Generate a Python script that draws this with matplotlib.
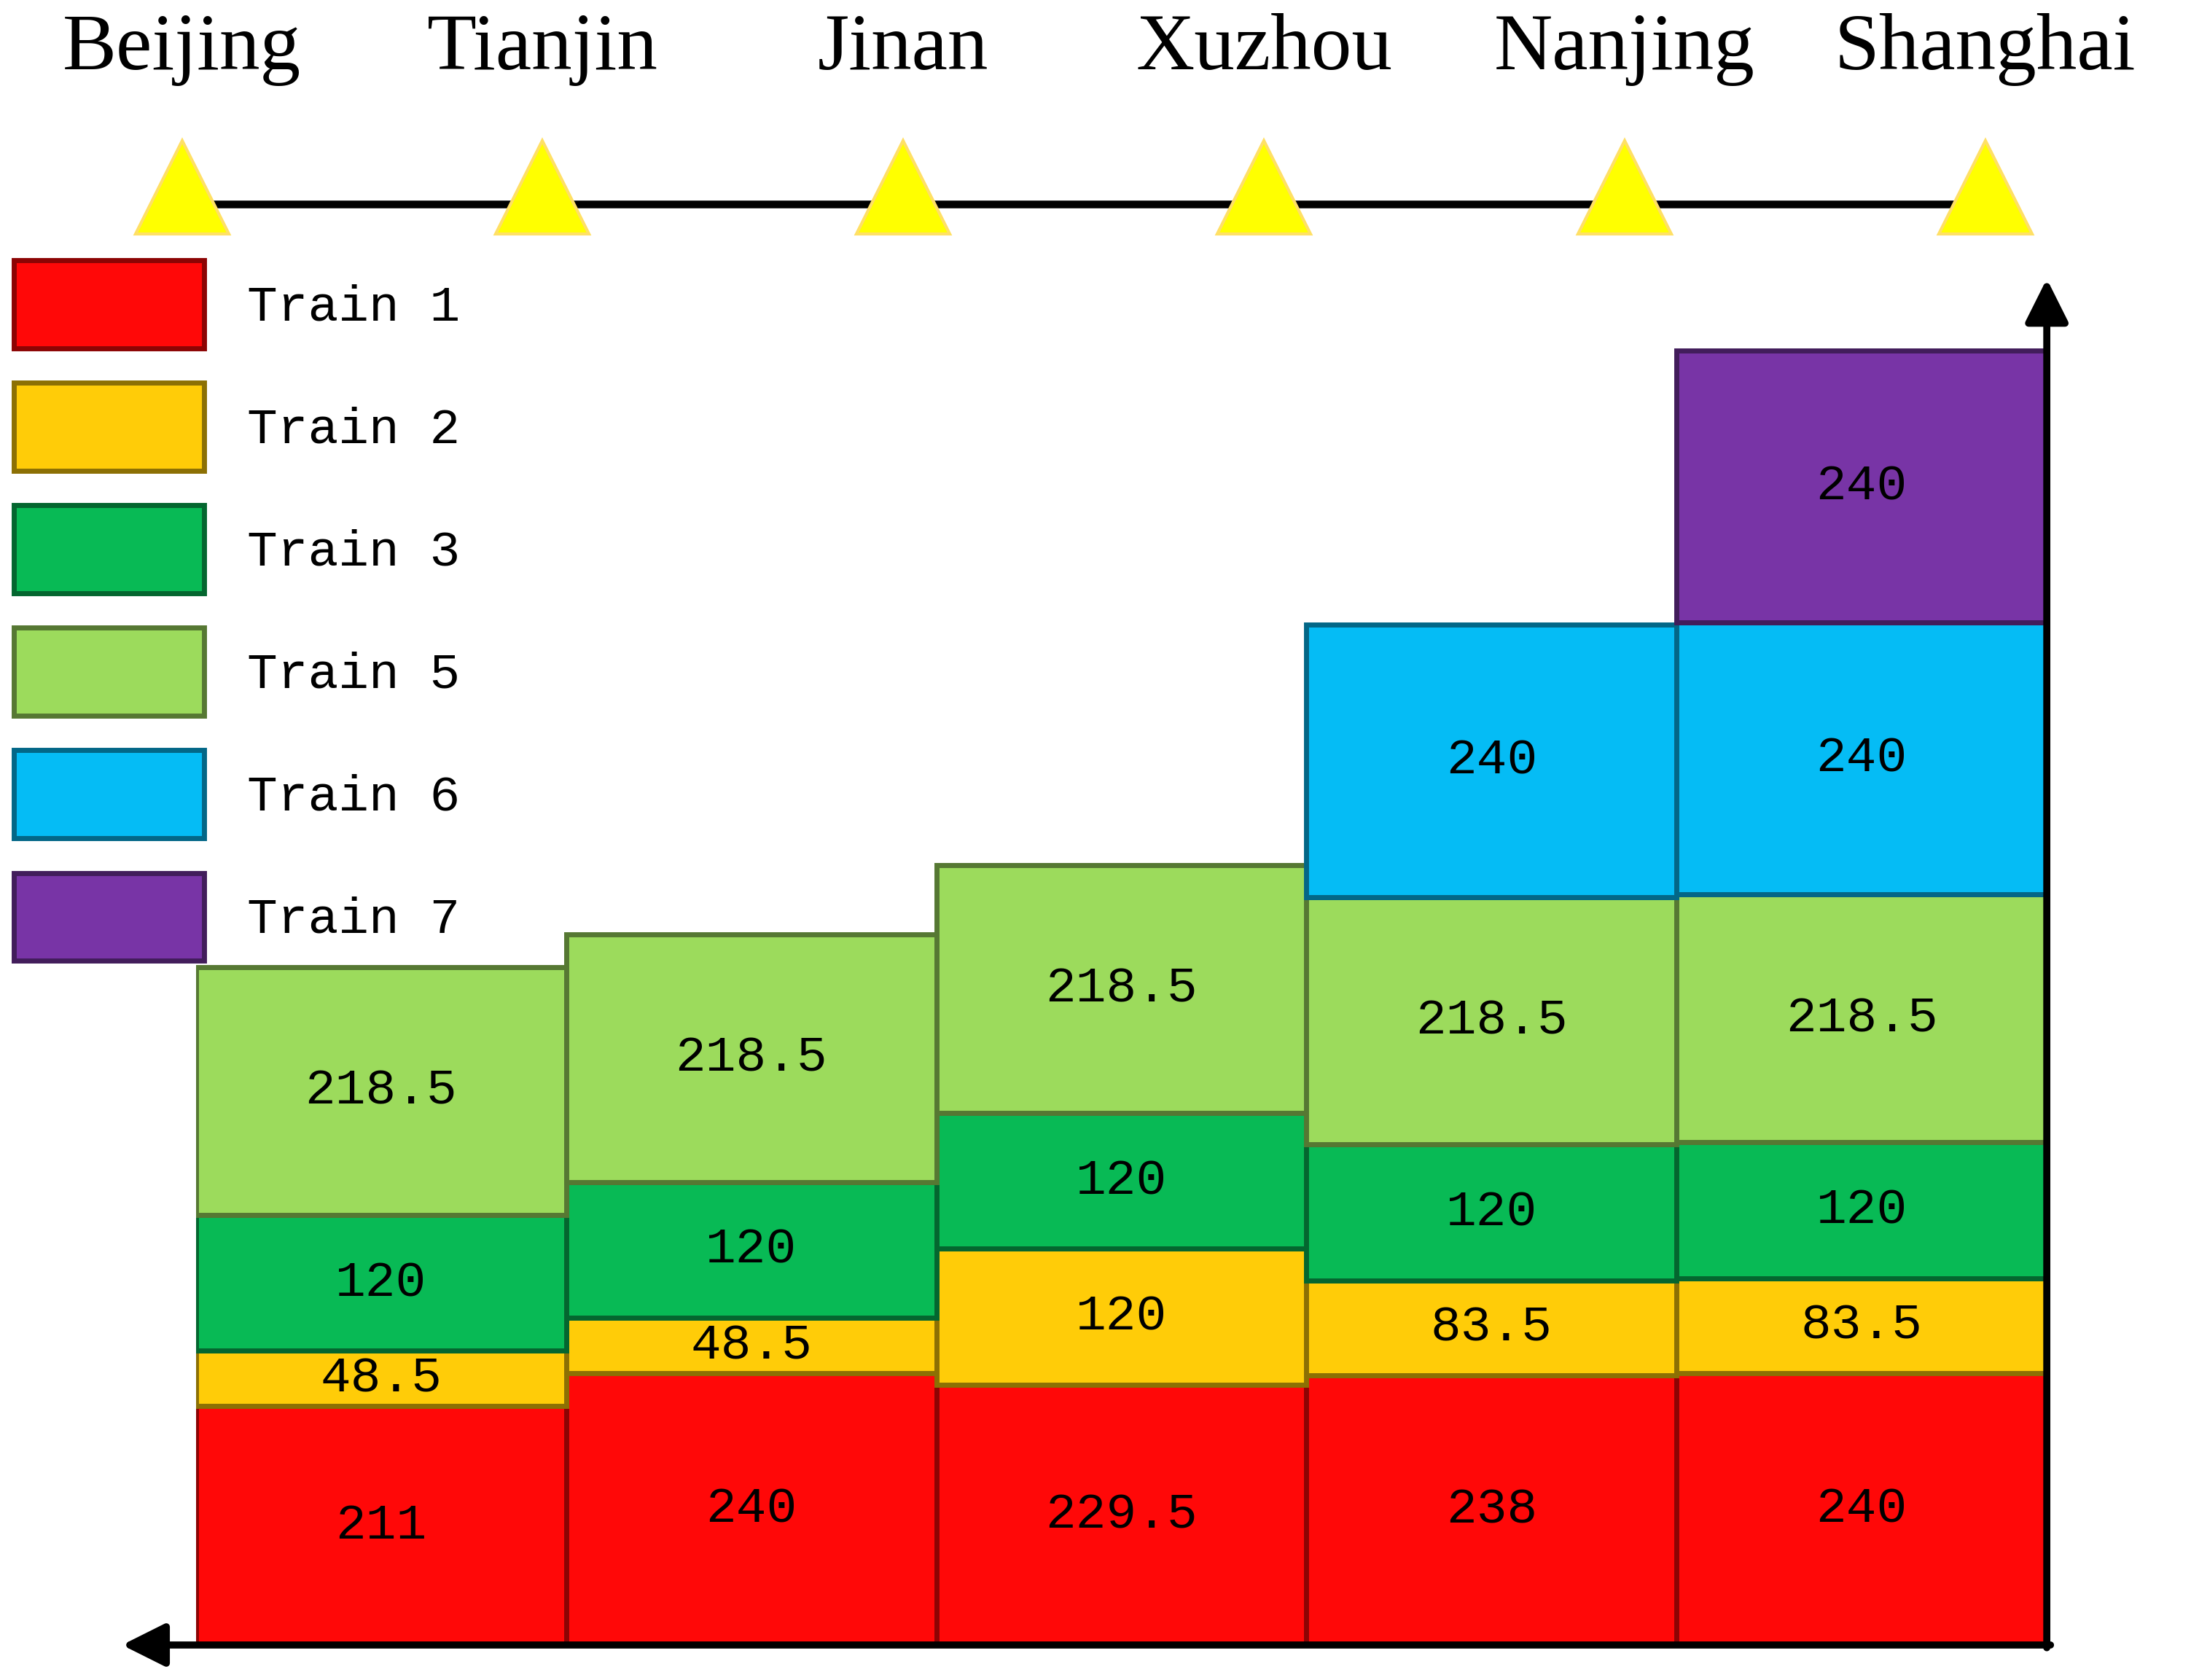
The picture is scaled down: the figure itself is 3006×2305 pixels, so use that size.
import numpy as np
import matplotlib
matplotlib.use("Agg")
import matplotlib.pyplot as plt
from matplotlib.colors import to_rgb
from matplotlib.patches import Patch

# stations along the line
stations = ["Beijing", "Tianjin", "Jinan", "Xuzhou", "Nanjing", "Shanghai"]

# one column per section between two stations
train_names = ["Train 1", "Train 2", "Train 3", "Train 5", "Train 6", "Train 7"]
train1 = [211, 240, 229.5, 238, 240]
train2 = [48.5, 48.5, 120, 83.5, 83.5]
train3 = [120, 120, 120, 120, 120]
train5 = [218.5, 218.5, 218.5, 218.5, 218.5]
train6 = [0, 0, 0, 240, 240]
train7 = [0, 0, 0, 0, 240]
series = [train1, train2, train3, train5, train6, train7]

colors = ["#FF0808", "#FFCC08", "#08BA55", "#9CDB5C", "#05BCF5", "#7834A6"]

W, H = 1565.0, 1200.0  # layout measured on the reference, scaled


def dark(c, f=0.55):
    r, g, b = to_rgb(c)
    return (r * f, g * f, b * f)


fig = plt.figure(figsize=(15.03, 11.525), dpi=200)

# ---- top strip: stations, line and triangles
ax_top = fig.add_axes([130 / W, 1 - 170 / H, (1418 - 130) / W, 160 / H])
ax_top.set_xlim(0, len(stations) - 1)
ax_top.set_ylim(0, 1)
ax_top.axis("off")
xs = np.arange(len(stations))
ax_top.plot(xs, np.full(len(xs), 0.15), color="black", lw=3.8, zorder=1,
            clip_on=False)
ax_top.plot(xs, np.full(len(xs), 0.225), linestyle="none", marker="^",
            markersize=46, color="#FFFF00", markeredgecolor="#FFE066",
            markeredgewidth=1.5, zorder=2, clip_on=False)
for x, name in zip(xs, stations):
    ax_top.text(x, 0.84, name, ha="center", va="center", fontsize=40,
                family="Liberation Serif", clip_on=False)

# ---- stacked bars
ax = fig.add_axes([140 / W, 25 / H, (1462 - 140) / W, (1175 - 205) / H])
ax.set_xlim(0, len(train1))
ax.set_ylim(0, 1198)
ax.axis("off")

pos = np.arange(len(train1))
bottom = np.zeros(len(train1))
for vals, c in zip(series, colors):
    vals = np.array(vals, dtype=float)
    keep = vals > 0
    bars = ax.bar(pos[keep], vals[keep], width=1.0, bottom=bottom[keep],
                  align="edge", color=c, edgecolor=dark(c), linewidth=2.5,
                  zorder=2)
    ax.bar_label(bars, labels=[f"{v:g}" for v in vals[keep]],
                 label_type="center", fontsize=25, family="Liberation Mono",
                 color="black")
    bottom += vals

# axis arrows
ax.annotate("", xy=(-0.04, 0), xytext=(1.002, 0), xycoords="axes fraction",
            arrowprops=dict(arrowstyle="-|>", color="black", lw=3.5,
                            mutation_scale=45, shrinkA=0, shrinkB=0),
            annotation_clip=False, zorder=5)
ax.annotate("", xy=(1.0, 1.006), xytext=(1.0, -0.002), xycoords="axes fraction",
            arrowprops=dict(arrowstyle="-|>", color="black", lw=3.5,
                            mutation_scale=45, shrinkA=0, shrinkB=0),
            annotation_clip=False, zorder=5)

# ---- legend
handles = [Patch(facecolor=c, edgecolor=dark(c), linewidth=2.5) for c in colors]
fig.legend(handles, train_names, loc="upper left",
           bbox_to_anchor=(10 / W, 1 - 186 / H), frameon=False,
           prop={"family": "Liberation Mono", "size": 25},
           handlelength=3.75, handleheight=2.3, labelspacing=0.68,
           handletextpad=0.85, borderpad=0, borderaxespad=0)

fig.savefig("out.png", dpi=200)
